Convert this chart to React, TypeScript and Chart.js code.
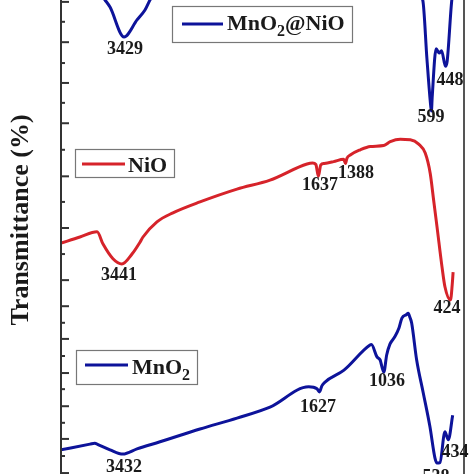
import React, { useEffect, useRef } from "react";
import { Chart, registerables } from "chart.js";

Chart.register(...registerables);

// Wavenumber axis (cm-1), reversed
const WN_MAX = 4000;
const WN_MIN = 300;
const T_MIN = 0;
const T_MAX = 100;

// MnO2@NiO (blue, top; largely above the visible frame)
const mno2NiOWn = [4000, 3700, 3596, 3550, 3421, 3302, 3229, 3183, 3100, 2000, 800, 679, 640, 605, 599, 592, 556, 528, 506, 470, 455, 412, 380];
const mno2NiOT = [108, 103, 100, 98.5, 92.2, 95.8, 97.9, 100, 103, 108, 103, 100, 87.5, 77.5, 76.6, 79.5, 89.7, 88.8, 89.3, 86.0, 87.0, 100, 104];

// NiO (red, middle)
const nioWn = [4000, 3826, 3669, 3614, 3523, 3441, 3348, 3275, 3247, 3119, 2972, 2724, 2384, 2081, 1741, 1690, 1660, 1637, 1615, 1583, 1497, 1405, 1388, 1375, 1344, 1252, 1160, 1037, 977, 885, 793, 716, 656, 610, 579, 548, 502, 475, 424, 408, 400];
const nioT = [48.7, 50.0, 51.1, 48.5, 45.4, 44.3, 46.4, 48.9, 50.0, 53.2, 55.1, 57.4, 60.1, 62.0, 65.4, 65.6, 65.3, 62.8, 65.2, 65.5, 65.9, 66.4, 65.5, 66.6, 67.3, 68.4, 69.1, 69.3, 70.1, 70.6, 70.5, 69.6, 67.7, 63.4, 57.8, 52.2, 43.7, 39.5, 36.7, 40.0, 42.6];

// MnO2 (blue, bottom)
const mno2Wn = [4000, 3734, 3690, 3660, 3550, 3432, 3302, 3091, 2724, 2384, 2081, 1726, 1650, 1627, 1605, 1576, 1402, 1163, 1150, 1099, 1071, 1036, 1010, 980, 955, 934, 897, 870, 830, 812, 796, 781, 735, 674, 613, 567, 548, 521, 475, 444, 404];
const mno2T = [5.1, 6.3, 6.5, 6.2, 5.1, 4.2, 5.3, 6.8, 9.5, 11.8, 14.1, 18.4, 18.0, 17.3, 18.6, 19.4, 21.9, 27.2, 27.3, 24.7, 24.1, 21.5, 25.1, 27.4, 28.3, 29.0, 30.8, 32.9, 33.6, 33.9, 33.0, 31.9, 24.1, 17.1, 10.0, 3.4, 2.3, 2.4, 8.9, 7.2, 12.4];

// Y-axis tick marks (no labels)
const majorTicks = [99.6, 91.1, 82.5, 74.0, 62.8, 51.9, 40.9, 35.4, 28.5, 21.3, 14.3, 7.4, 0.2];
const minorTicks = [95.4, 86.7, 78.3, 68.4, 57.4, 46.4, 31.9, 24.9, 17.9, 10.8, 3.8];

// Peak annotations
const peakLabels = ["3429", "599", "448", "3441", "1637", "1388", "424", "3432", "1627", "1036", "538", "434"];
const peakLabelWn = [3412, 603, 429, 3468, 1622, 1292, 456, 3422, 1641, 1007, 557, 383];
const peakLabelT = [89.5, 75.3, 83.1, 42.0, 61.0, 63.5, 35.0, 1.5, 14.1, 19.6, -0.6, 4.6];

const Y_TITLE = "Transmittance (%)";

const BLUE = "#0d139a";
const RED = "#d6232a";
const AXIS = "#333333";
const FONT = '"Liberation Serif", "Times New Roman", Times, serif';

function toPoints(xs: number[], ys: number[]) {
  return xs.map((x, i) => ({ x, y: ys[i] }));
}

function drawRich(ctx: CanvasRenderingContext2D, x: number, base: number, parts: { t: string; sub?: boolean }[]) {
  let cx = x;
  for (const p of parts) {
    ctx.font = p.sub ? `bold 16px ${FONT}` : `bold 22px ${FONT}`;
    ctx.fillText(p.t, cx, p.sub ? base + 6 : base);
    cx += ctx.measureText(p.t).width;
  }
}

const overlayPlugin = {
  id: "overlay",
  afterDraw(chart: any) {
    const { ctx, chartArea: a, scales } = chart;
    const ys = scales.y;
    const xs = scales.x;
    const H = chart.height;
    ctx.save();

    // right frame
    ctx.strokeStyle = "#555";
    ctx.lineWidth = 2;
    ctx.beginPath();
    ctx.moveTo(a.right, 0);
    ctx.lineTo(a.right, H);
    ctx.stroke();

    // left axis
    ctx.strokeStyle = AXIS;
    ctx.lineWidth = 2;
    ctx.beginPath();
    ctx.moveTo(a.left, 0);
    ctx.lineTo(a.left, H);
    ctx.stroke();

    // inward ticks
    majorTicks.forEach((v) => {
      const py = ys.getPixelForValue(v);
      ctx.beginPath();
      ctx.moveTo(a.left, py);
      ctx.lineTo(a.left + 8, py);
      ctx.stroke();
    });
    minorTicks.forEach((v) => {
      const py = ys.getPixelForValue(v);
      ctx.beginPath();
      ctx.moveTo(a.left, py);
      ctx.lineTo(a.left + 4, py);
      ctx.stroke();
    });

    // y title
    ctx.save();
    ctx.translate(28, 220);
    ctx.rotate(-Math.PI / 2);
    ctx.fillStyle = "#1a1a1a";
    ctx.font = `bold 26px ${FONT}`;
    ctx.textAlign = "center";
    ctx.textBaseline = "alphabetic";
    ctx.fillText(Y_TITLE, 0, 0);
    ctx.restore();

    // peak labels
    ctx.fillStyle = "#1a1a1a";
    ctx.font = `bold 18px ${FONT}`;
    ctx.textAlign = "center";
    ctx.textBaseline = "middle";
    peakLabels.forEach((t, i) => {
      ctx.fillText(t, xs.getPixelForValue(peakLabelWn[i]), ys.getPixelForValue(peakLabelT[i]));
    });

    // legend boxes
    const legends = [
      { box: [172, 6, 180, 36], line: [182, 223, 24], color: BLUE, tx: 227, base: 30, parts: [{ t: "MnO" }, { t: "2", sub: true }, { t: "@NiO" }] },
      { box: [75, 149, 99, 28], line: [82, 125, 164], color: RED, tx: 128, base: 172, parts: [{ t: "NiO" }] },
      { box: [76, 350, 121, 34], line: [85, 128, 365], color: BLUE, tx: 132, base: 374, parts: [{ t: "MnO" }, { t: "2", sub: true }] },
    ];
    ctx.textAlign = "left";
    ctx.textBaseline = "alphabetic";
    legends.forEach((l) => {
      ctx.fillStyle = "#ffffff";
      ctx.fillRect(l.box[0], l.box[1], l.box[2], l.box[3]);
      ctx.strokeStyle = "#777";
      ctx.lineWidth = 1.2;
      ctx.strokeRect(l.box[0] + 0.5, l.box[1] + 0.5, l.box[2], l.box[3]);
      ctx.strokeStyle = l.color;
      ctx.lineWidth = 3;
      ctx.beginPath();
      ctx.moveTo(l.line[0], l.line[2]);
      ctx.lineTo(l.line[1], l.line[2]);
      ctx.stroke();
      ctx.fillStyle = "#1a1a1a";
      drawRich(ctx, l.tx, l.base, l.parts);
    });

    ctx.restore();
  },
};

export default function App() {
  const ref = useRef<HTMLCanvasElement | null>(null);

  useEffect(() => {
    if (!ref.current) return;
    const common = {
      pointRadius: 0,
      borderWidth: 3,
      cubicInterpolationMode: "monotone" as const,
      fill: false,
    };
    const chart = new Chart(ref.current, {
      type: "line",
      data: {
        datasets: [
          { ...common, label: "MnO2@NiO", data: toPoints(mno2NiOWn, mno2NiOT), borderColor: BLUE },
          { ...common, label: "NiO", data: toPoints(nioWn, nioT), borderColor: RED },
          { ...common, label: "MnO2", data: toPoints(mno2Wn, mno2T), borderColor: BLUE },
        ],
      },
      options: {
        animation: false,
        responsive: false,
        devicePixelRatio: 1,
        parsing: false as any,
        layout: { padding: { left: 61, right: 10, top: 0, bottom: 0 } },
        plugins: { legend: { display: false }, tooltip: { enabled: false }, title: { display: false } },
        scales: {
          x: { type: "linear", min: WN_MIN, max: WN_MAX, reverse: true, display: false },
          y: { type: "linear", min: T_MIN, max: T_MAX, display: false },
        },
      },
      plugins: [overlayPlugin],
    });
    return () => chart.destroy();
  }, []);

  return (
    <div style={{ position: "fixed", left: 0, top: 0, width: 474, height: 474, background: "#fff" }}>
      <canvas ref={ref} width={474} height={474} style={{ display: "block" }} />
    </div>
  );
}
